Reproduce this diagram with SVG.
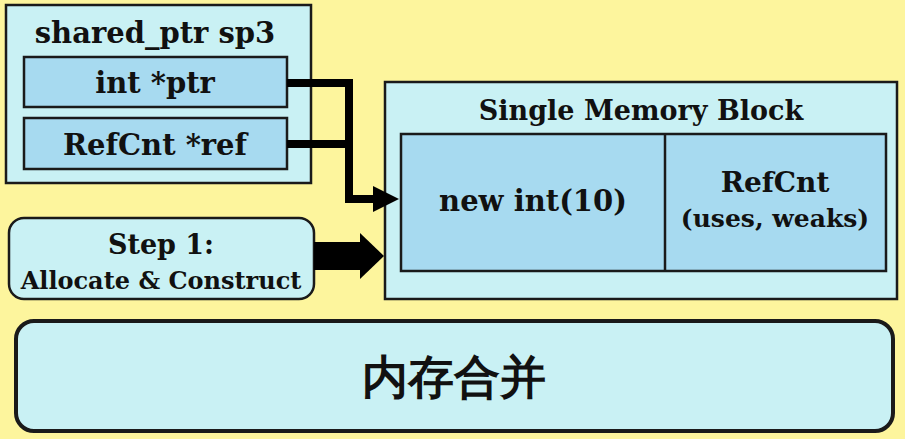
<svg xmlns="http://www.w3.org/2000/svg" width="905" height="439" viewBox="0 0 905 439">
<style>
.t{font-family:"DejaVu Serif","Liberation Serif",serif;font-weight:bold;fill:#111;text-anchor:middle}
.c{fill:#C9F1F4;stroke:#1a1a1a;stroke-width:2.5}
.b{fill:#A7DAF0;stroke:#1a1a1a;stroke-width:2.5}
</style>
<rect width="905" height="439" fill="#FDF59D"/>
<g id="sp3">
<rect class="c" x="6" y="5" width="305" height="178"/>
<text class="t" x="155" y="43" font-size="29">shared_ptr sp3</text>
</g>
<g id="ptr">
<rect class="b" x="24" y="57" width="263" height="50"/>
<text class="t" x="155" y="93" font-size="29">int *ptr</text>
</g>
<g id="ref">
<rect class="b" x="24" y="118" width="263" height="51"/>
<text class="t" x="155" y="155" font-size="29">RefCnt *ref</text>
</g>
<g id="step1">
<rect class="c" x="9" y="218" width="305" height="81" rx="15"/>
<text class="t" x="161" y="254" font-size="27">Step 1:</text>
<text class="t" x="161" y="289" font-size="24">Allocate &amp; Construct</text>
</g>
<g id="block">
<rect class="c" x="385" y="82" width="512" height="217"/>
<text class="t" x="641" y="120" font-size="27">Single Memory Block</text>
<rect class="b" x="401" y="134" width="485" height="137"/>
<line x1="665" y1="134" x2="665" y2="271" stroke="#1a1a1a" stroke-width="2.5"/>
<text class="t" x="533" y="211" font-size="29">new int(10)</text>
<text class="t" x="775" y="192" font-size="28">RefCnt</text>
<text class="t" x="775" y="227" font-size="25">(uses, weaks)</text>
</g>
<g id="merge">
<rect x="16" y="321" width="877" height="110" rx="18" fill="#C9F1F4" stroke="#1a1a1a" stroke-width="4"/>
<text class="t" x="454" y="393" font-size="46" font-weight="900" font-family="'Noto Sans CJK SC',sans-serif">内存合并</text>
</g>
<g id="connectors" fill="none" stroke="#000">
<polyline points="287,83 349,83 349,199 376,199" stroke-width="8"/>
<line x1="287" y1="144" x2="349" y2="144" stroke-width="8"/>
<polygon points="373,186 399,199 373,212" fill="#000" stroke="none"/>
<rect x="314" y="242" width="48" height="28" fill="#000" stroke="none"/>
<polygon points="360,233 384,256 360,279" fill="#000" stroke="none"/>
</g>
</svg>
